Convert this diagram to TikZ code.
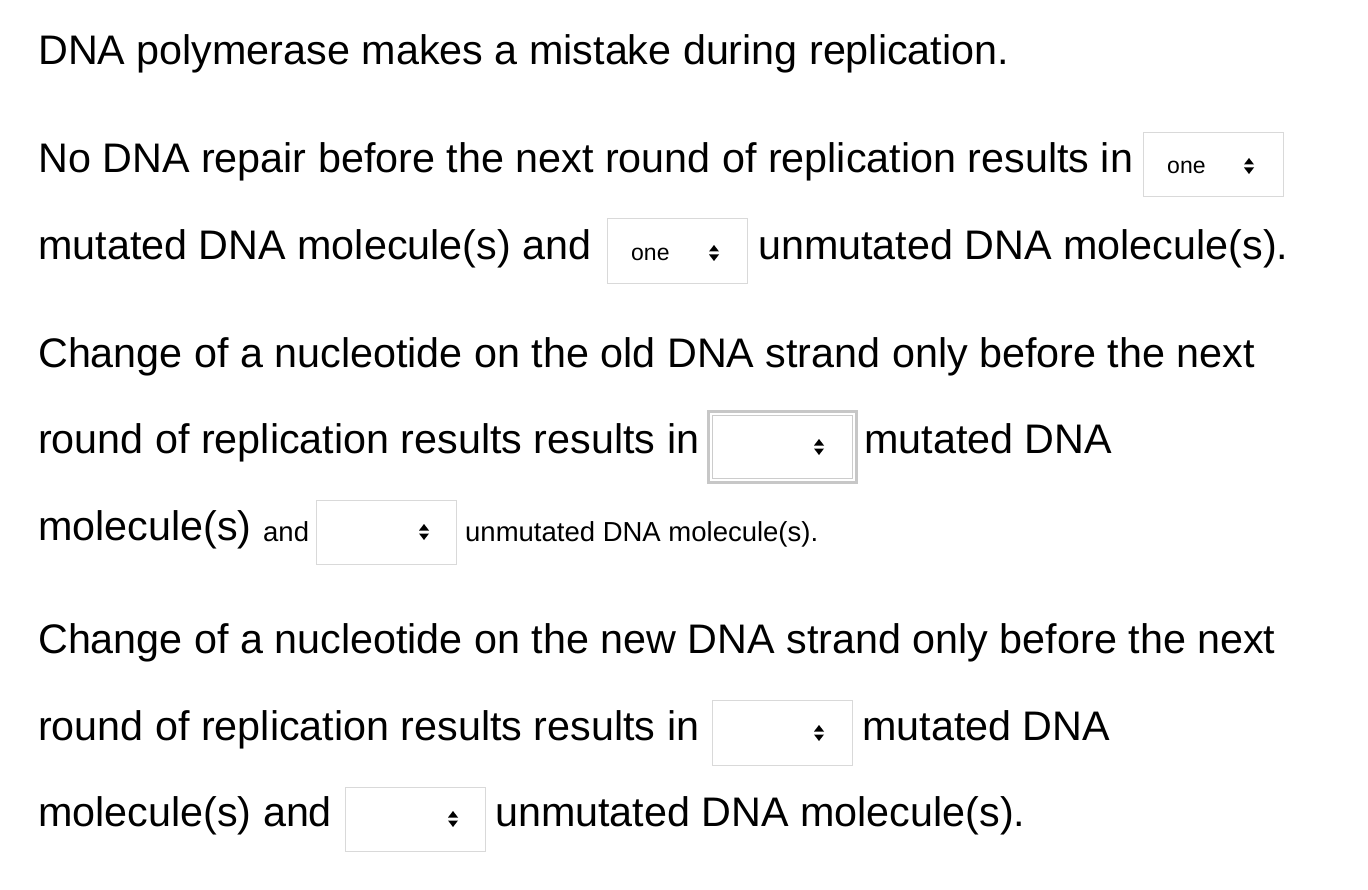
\documentclass[tikz,border=0pt]{standalone}
\usepackage{fontspec}
\setmainfont{Liberation Sans}
\begin{document}
\begin{tikzpicture}[x=1pt,y=-1pt,
  big/.style={anchor=mid west,inner sep=0pt,font=\fontsize{41.3}{43}\selectfont},
  small/.style={anchor=mid west,inner sep=0pt,font=\fontsize{27.5}{29}\selectfont},
  opt/.style={anchor=mid west,inner sep=0pt,font=\fontsize{23}{25}\selectfont},
  selbox/.style={draw=black!15,line width=1pt,fill=white},
  focus/.style={draw=black!22,line width=3pt,fill=white}]
\useasboundingbox (0,0) rectangle (1368,890);
\newcommand{\updown}[2]{\fill (#1-5,#2-1.5) -- (#1+5,#2-1.5) -- (#1,#2-8) -- cycle; \fill (#1-5,#2+1.5) -- (#1+5,#2+1.5) -- (#1,#2+8) -- cycle;}
\node[big] (t1) at (38,62) {DNA polymerase makes a mistake during replication.};
\node[big] (t2) at (38,170) {No DNA repair before the next round of replication results in};
\draw[selbox] (1143,133) rectangle (1283,197); \node[opt] (o1) at (1167,171) {one}; \updown{1249}{166}
\node[big] (t3) at (38,257) {mutated DNA molecule(s) and};
\draw[selbox] (607,219) rectangle (747,284); \node[opt] (o2) at (631,258) {one}; \updown{714}{253}
\node[big] (t3b) at (758,257) {unmutated DNA molecule(s).};
\node[big] (t4) at (38,365) {Change of a nucleotide on the old DNA strand only before the next};
\node[big] (t5) at (38,451) {round of replication results results in};
\draw[focus] (708,411) rectangle (856,482); \draw[black!20,line width=1pt] (712,415) rectangle (852,478); \updown{819}{447}
\node[big] (t5b) at (864,451) {mutated DNA};
\node[big] (t6) at (38,538) {molecule(s)};
\node[small] (t6a) at (263,539) {and};
\draw[selbox] (316,500) rectangle (456,564); \updown{424}{532}
\node[small] (t6b) at (465,539) {unmutated DNA molecule(s).};
\node[big] (t7) at (38,651) {Change of a nucleotide on the new DNA strand only before the next};
\node[big] (t8) at (38,738) {round of replication results results in};
\draw[selbox] (712,700) rectangle (852,765); \updown{819}{733}
\node[big] (t8b) at (862,738) {mutated DNA};
\node[big] (t9) at (38,824) {molecule(s) and};
\draw[selbox] (345,787) rectangle (485,851); \updown{453}{819}
\node[big] (t9b) at (495,824) {unmutated DNA molecule(s).};
\end{tikzpicture}
\end{document}
